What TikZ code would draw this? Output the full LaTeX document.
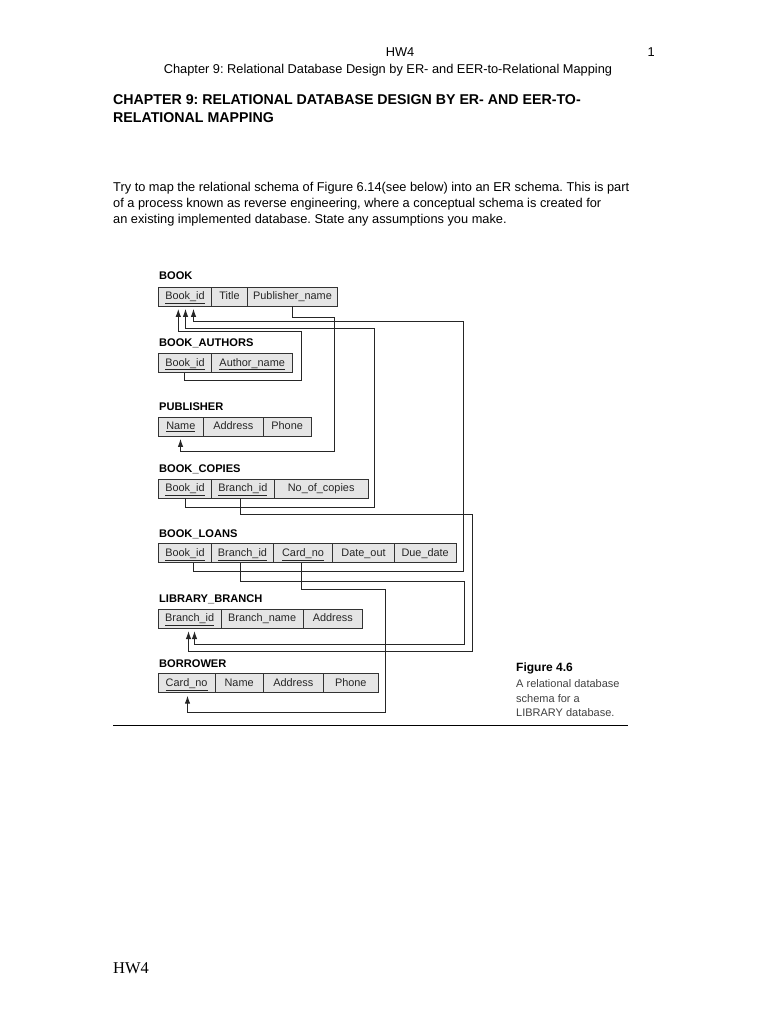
\documentclass[tikz,border=0pt]{standalone}
\usepackage{fontspec}
\setmainfont{Liberation Sans}
\newfontfamily\seriffont{Liberation Serif}
\usetikzlibrary{arrows.meta}
\frenchspacing
\begin{document}
\begin{tikzpicture}[x=1pt,y=-1pt,
 txt/.style={anchor=base west, inner sep=0pt, font=\fontsize{12.8}{15}\selectfont},
 ttl/.style={anchor=base west, inner sep=0pt, font=\fontsize{14.2}{16}\selectfont\bfseries},
 tbl/.style={anchor=base west, inner sep=0pt, font=\fontsize{11.1}{13}\selectfont\bfseries},
 cell/.style={draw=black!80, fill=black!10, line width=0.8pt, inner sep=0pt, minimum height=19pt, text height=8.5pt, text depth=2.5pt, font=\fontsize{10.9}{12}\selectfont, text=black!85},
 fk/.style={draw=black!85, line width=0.95pt, -{Latex[length=8pt,width=5.5pt]}},
 captxt/.style={anchor=base west, inner sep=0pt, font=\fontsize{11}{13}\selectfont, text=black!75},
]
\useasboundingbox (0,0) rectangle (768,1024);
% header
\node[txt, anchor=base] (hdr) at (400,57) {HW4};
\node[txt, anchor=base east] (pg) at (655,57) {1};
\node[txt, anchor=base] (chap) at (388,74) {Chapter 9: Relational Database Design by ER- and EER-to-Relational Mapping};
\node[ttl] (t1) at (113,105) {CHAPTER 9: RELATIONAL DATABASE DESIGN BY ER- AND EER-TO-};
\node[ttl] (t2) at (113,122.5) {RELATIONAL MAPPING};
\node[txt] (p1l) at (113,192) {Try to map the relational schema of Figure 6.14(see below) into an ER schema. This is part};
\node[txt] (p2l) at (113,207.5) {of a process known as reverse engineering, where a conceptual schema is created for};
\node[txt] (p3l) at (113,223) {an existing implemented database. State any assumptions you make.};
% tables
\node[tbl] (lbook) at (159,279.5) {BOOK};
\node[cell, minimum width=53.4pt] (b1) at (185,296.5) {\underline{Book\_id}};
\node[cell, minimum width=35.6pt] (b2) at (229.5,296.5) {Title};
\node[cell, minimum width=90.4pt] (b3) at (292.5,296.5) {Publisher\_name};

\node[tbl] (lauth) at (159,346) {BOOK\_AUTHORS};
\node[cell, minimum width=53.4pt] (a1) at (185,363) {\underline{Book\_id}};
\node[cell, minimum width=81pt] (a2) at (252.2,363) {\underline{Author\_name}};

\node[tbl] (lpub) at (159,410) {PUBLISHER};
\node[cell, minimum width=45pt] (p1) at (180.8,426.5) {\underline{Name}};
\node[cell, minimum width=60pt] (p2) at (233.3,426.5) {Address};
\node[cell, minimum width=47.7pt] (p3) at (287.15,426.5) {Phone};

\node[tbl] (lcop) at (159,472.5) {BOOK\_COPIES};
\node[cell, minimum width=53.4pt] (c1) at (185,488.5) {\underline{Book\_id}};
\node[cell, minimum width=62.3pt] (c2) at (242.85,488.5) {\underline{Branch\_id}};
\node[cell, minimum width=94.3pt] (c3) at (321.15,488.5) {No\_of\_copies};

\node[tbl] (lloan) at (159,537.5) {BOOK\_LOANS};
\node[cell, minimum width=53.4pt] (l1) at (185,553.3) {\underline{Book\_id}};
\node[cell, minimum width=61.6pt] (l2) at (242.5,553.3) {\underline{Branch\_id}};
\node[cell, minimum width=59.4pt] (l3) at (303,553.3) {\underline{Card\_no}};
\node[cell, minimum width=61.6pt] (l4) at (363.5,553.3) {Date\_out};
\node[cell, minimum width=61.7pt] (l5) at (425.15,553.3) {Due\_date};

\node[tbl] (lbr) at (159,602.5) {LIBRARY\_BRANCH};
\node[cell, minimum width=62.7pt] (r1) at (189.65,618.7) {\underline{Branch\_id}};
\node[cell, minimum width=82.3pt] (r2) at (262.15,618.7) {Branch\_name};
\node[cell, minimum width=59pt] (r3) at (332.8,618.7) {Address};

\node[tbl] (lbor) at (159,667.5) {BORROWER};
\node[cell, minimum width=56.7pt] (w1) at (186.65,683.3) {\underline{Card\_no}};
\node[cell, minimum width=48.3pt] (w2) at (239.15,683.3) {Name};
\node[cell, minimum width=60pt] (w3) at (293.3,683.3) {Address};
\node[cell, minimum width=55pt] (w4) at (350.8,683.3) {Phone};
% connectors
\draw[fk] ([xshift=-0.7pt]a1.south) -- ++(0,8) -| (301.5,331.5) -| ([xshift=-6.7pt,yshift=-2.5pt]b1.south);
\draw[fk] ([xshift=0.5pt]c1.south) -- ++(0,9) -| (374.5,328.5) -| ([xshift=0.5pt,yshift=-2.5pt]b1.south);
\draw[fk] ([xshift=8.5pt]l1.south) -- ++(0,8.4) -| (463.5,321.5) -| ([xshift=8.5pt,yshift=-2.5pt]b1.south);
\draw[fk] ([xshift=0pt]b3.south) -- ++(0,11.3) -| (334.5,451.5) -| ([xshift=-0.3pt,yshift=-2.5pt]p1.south);
\draw[fk] ([xshift=-2.35pt]c2.south) -- ++(0,16) -| (472.5,651.5) -| ([xshift=-1.15pt,yshift=-2.5pt]r1.south);
\draw[fk] ([xshift=-2pt]l2.south) -- ++(0,17.9) -| (464.5,644.5) -| ([xshift=4.85pt,yshift=-2.5pt]r1.south);
\draw[fk] ([xshift=-1.5pt]l3.south) -- ++(0,26.2) -| (385.5,712.5) -| ([xshift=0.85pt,yshift=-2.5pt]w1.south);
% caption
\node[captxt, font=\fontsize{12}{14}\selectfont\bfseries, text=black] (fig) at (516,671.5) {Figure 4.6};
\node[captxt] (c1l) at (516,687.5) {A relational database};
\node[captxt] (c2l) at (516,702) {schema for a};
\node[captxt] (c3l) at (516,716.5) {LIBRARY database.};
\coordinate (rl) at (113,725);
\coordinate (rr) at (628,725);
\draw[line width=1pt] (rl) -- (rr);
% footer
\node[anchor=base west, inner sep=0pt, font=\seriffont\fontsize{16.5}{18}\selectfont] (foot) at (113,973) {HW4};
\end{tikzpicture}
\end{document}
